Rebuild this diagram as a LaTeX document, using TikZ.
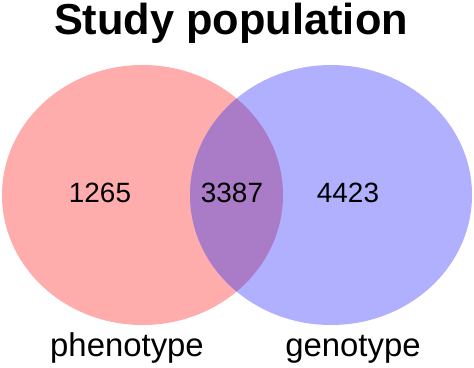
\documentclass[tikz,border=0pt]{standalone}
\usepackage{fontspec}
\setmainfont{Liberation Sans}
\definecolor{pinkset}{RGB}{255,172,172}
\definecolor{blueset}{RGB}{176,176,255}
\definecolor{overlapset}{RGB}{170,124,200}
\begin{document}
\begin{tikzpicture}[x=1bp,y=-1bp,
  num/.style={anchor=base, inner sep=0pt, font=\fontsize{28}{30}\selectfont},
  lbl/.style={anchor=base, inner sep=0pt, font=\fontsize{33}{36}\selectfont},
  ttl/.style={anchor=base, inner sep=0pt, font=\fontsize{43.5}{46}\selectfont\bfseries}]
\useasboundingbox (0,0) rectangle (474,367);
\fill[pinkset] (142.5,195) ellipse [x radius=140.5, y radius=130];
\fill[blueset] (331,195) ellipse [x radius=141, y radius=130];
\begin{scope}
  \clip (142.5,195) ellipse [x radius=140.5, y radius=130];
  \fill[overlapset] (331,195) ellipse [x radius=141, y radius=130];
\end{scope}
\node[ttl] (title) at (231,34) {Study population};
\node[num] (left) at (100,202) {1265};
\node[num] (mid) at (232,202) {3387};
\node[num] (right) at (348,202) {4423};
\node[lbl] (pheno) at (127,356) {phenotype};
\node[lbl] (geno) at (353,356) {genotype};
\end{tikzpicture}
\end{document}
